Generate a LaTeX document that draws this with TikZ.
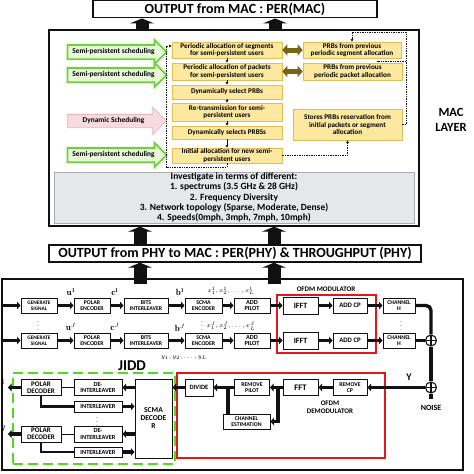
\documentclass[tikz,border=0pt]{standalone}
\usepackage{fontspec}
\setsansfont{Carlito}
\usepackage{amsmath}
\usepackage{amssymb}
\usetikzlibrary{arrows.meta,positioning,calc,shapes.arrows}
\definecolor{Ink}{HTML}{111111}
\definecolor{YelFill}{HTML}{FDE8A0}
\definecolor{YelEdge}{HTML}{E2BC55}
\definecolor{GrnFill}{HTML}{E6F8D8}
\definecolor{GrnEdge}{HTML}{6FD13A}
\definecolor{PnkFill}{HTML}{F8DAE2}
\definecolor{PnkEdge}{HTML}{E6B5C3}
\definecolor{Olive}{HTML}{7A6413}
\definecolor{GreyFill}{HTML}{E5E7E9}
\definecolor{GreyEdge}{HTML}{A9ADB1}
\definecolor{RedBox}{HTML}{E3161D}
\definecolor{JiddGreen}{HTML}{52DA23}
\tikzset{
  blk/.style={draw=Ink,line width=1pt,fill=white,align=center,inner sep=0pt,font=\sffamily\bfseries\fontsize{5.8}{6.2}\selectfont},
  ybox/.style={draw=YelEdge,fill=YelFill,line width=0.6pt,align=center,inner sep=0pt,font=\sffamily\bfseries\fontsize{7.2}{7.8}\selectfont},
  outbox/.style={draw=Ink,line width=1.4pt,fill=white,inner sep=0pt,font=\sffamily\bfseries\fontsize{14}{16}\selectfont},
  sched/.style={single arrow,single arrow head indent=0pt,minimum height=99pt,inner xsep=2pt,inner ysep=3pt,text height=5pt,text depth=1.5pt,font=\sffamily\bfseries\fontsize{7.4}{8}\selectfont},
  flow/.style={Ink,line width=3.4pt,-{Triangle[width=7.5pt,length=3.5pt]}},
  pipe/.style={Ink,line width=3.4pt},
  bigup/.style={Ink,line width=13pt,-{Triangle[width=24pt,length=5pt]}},
  dots/.style={Ink,line width=0.9pt,dash pattern=on 1.4pt off 1pt},
  small/.style={Ink,line width=0.6pt,-{Latex[length=2.5pt,width=3pt]}},
  swap/.style={Olive,line width=5pt,{Triangle[width=11pt,length=5pt]}-{Triangle[width=11pt,length=5pt]}},
  oplus/.style={circle,draw=Ink,fill=white,line width=1.1pt,minimum size=11pt,inner sep=0pt,
    path picture={\draw[Ink,line width=1.1pt] (path picture bounding box.north) -- (path picture bounding box.south) (path picture bounding box.west) -- (path picture bounding box.east);}},
  mlbl/.style={inner sep=0pt,font=\fontsize{9}{9}\selectfont},
  xlbl/.style={inner sep=0pt,font=\fontsize{6.5}{6.5}\selectfont},
  vdot/.style={inner sep=0pt,font=\fontsize{8}{8}\selectfont}
}
\begin{document}
\begin{tikzpicture}[x=1pt,y=-1pt]
\useasboundingbox (0,0) rectangle (474,474);
% MAC part
\node[outbox,minimum width=284pt,minimum height=17.5pt] (macout) at (235,9) {OUTPUT from MAC : PER(MAC)};
\node[draw=Ink,line width=1.3pt,minimum width=370pt,minimum height=196pt,inner sep=0pt] (macbox) at (234,128) {};
\coordinate (ca) at (142,0);
\coordinate (cb) at (275,0);
\draw[bigup] (macbox.north -| ca) -- (macout.south -| ca);
\draw[bigup] (macbox.north -| cb) -- (macout.south -| cb);
\node[font=\sffamily\bfseries\fontsize{12.5}{14.5}\selectfont,align=center] (maclayer) at (451,120) {MAC\\LAYER};

\node[sched,draw=GrnEdge,fill=GrnFill,line width=1.8pt,single arrow head extend=5pt] (sp1) at (113.5,52) {Semi-persistent scheduling};
\node[sched,draw=GrnEdge,fill=GrnFill,line width=1.8pt,single arrow head extend=5pt] (sp2) at (113.5,75) {Semi-persistent scheduling};
\node[sched,draw=PnkEdge,fill=PnkFill,line width=0.8pt,single arrow head extend=7pt] (dyn) at (113.5,121) {Dynamic Scheduling};
\node[sched,draw=GrnEdge,fill=GrnFill,line width=1.8pt,single arrow head extend=5pt] (sp3) at (113.5,155) {Semi-persistent scheduling};

\node[ybox,minimum width=110pt,minimum height=16pt] (seg) at (227,50) {Periodic allocation of segments\\for semi-persistent users};
\node[ybox,minimum width=110pt,minimum height=17pt] (pkt) at (227,71.5) {Periodic allocation of packets\\for semi-persistent users};
\node[ybox,minimum width=110pt,minimum height=14pt] (dsel) at (227,92) {Dynamically select PRBs};
\node[ybox,minimum width=110pt,minimum height=18pt] (retx) at (227,112) {Re-transmission for semi-\\persistent users};
\node[ybox,minimum width=110pt,minimum height=13pt] (dsels) at (227,132.5) {Dynamically selects PRBSs};
\node[ybox,minimum width=110pt,minimum height=15pt] (init) at (227,155.5) {Initial allocation for new semi-\\persistent users};
\node[ybox,minimum width=98pt,minimum height=16pt] (prbseg) at (352,50) {PRBs from previous\\periodic segment allocation};
\node[ybox,minimum width=99pt,minimum height=17pt] (prbpkt) at (352.5,71.5) {PRBs from previous\\periodic packet allocation};
\node[ybox,minimum width=109pt,minimum height=31pt] (store) at (347.5,124.5) {Stores PRBs reservation from\\initial packets or segment\\allocation};

\draw[small] (seg) -- (pkt);
\draw[small] (pkt) -- (dsel);
\draw[small] (dsel) -- (retx);
\draw[small] (retx) -- (dsels);
\draw[small] (dsels) -- (init);
\draw[swap] (seg) -- (prbseg);
\draw[swap] (pkt) -- (prbpkt);

\coordinate (ltop) at (166,46);
\coordinate (rtop) at (406,32);
\coordinate (rmid) at (406,61);
\draw[dots,->,>={Latex[length=2.5pt,width=3pt]}] (init.south) -- ++(0,4) -| (ltop) -- (ltop -| seg.west);
\draw[dots,->,>={Latex[length=2.5pt,width=3pt]}] (store.east) -- ++(4,0) |- (rtop) -| (prbseg.north);
\draw[dots] (rmid) -- ++(-29,0) -- ++(0,2);
\draw[dots,->,>={Latex[length=2.5pt,width=3pt]}] (init.east) -| (store.south);

\node[draw=GreyEdge,fill=GreyFill,line width=0.8pt,minimum width=360pt,minimum height=51pt,align=center,inner sep=0pt,font=\sffamily\bfseries\fontsize{9.5}{10.2}\selectfont] (invest) at (234,197.5) {Investigate in terms of different:\\1. spectrums (3.5 GHz \& 28 GHz)\\2. Frequency Diversity\\3. Network topology (Sparse, Moderate, Dense)\\4. Speeds(0mph, 3mph, 7mph, 10mph)};

% PHY part
\node[outbox,minimum width=372pt,minimum height=17pt] (phyout) at (235,253.5) {OUTPUT from PHY to MAC : PER(PHY) \& THROUGHPUT (PHY)};
\coordinate (cc) at (140,0);
\coordinate (cd) at (274,0);
\draw[bigup] (phyout.north -| cc) -- (macbox.south -| cc);
\draw[bigup] (phyout.north -| cd) -- (macbox.south -| cd);
\node[draw=Ink,line width=1.2pt,minimum width=461pt,minimum height=191pt,inner sep=0pt] (phybox) at (232.5,374.5) {};
\draw[bigup] ($(phybox.north -| cc)+(0,6)$) -- (phyout.south -| cc);
\draw[bigup] ($(phybox.north -| cd)+(0,6)$) -- (phyout.south -| cd);

\node[draw=RedBox,line width=2pt,minimum width=99pt,minimum height=58pt,inner sep=0pt] (ofdmmod) at (326.5,324) {};
\node[font=\sffamily\bfseries\fontsize{7}{8}\selectfont] (modlbl) at (326,289.5) {OFDM MODULATOR};
\node[draw=RedBox,line width=2pt,minimum width=208pt,minimum height=85pt,inner sep=0pt] (ofdmdem) at (281,415.5) {};
\node[draw=JiddGreen,line width=2.2pt,dash pattern=on 10pt off 5pt,minimum width=162pt,minimum height=91pt,inner sep=0pt] (jidd) at (94,418.5) {};
\node[font=\sffamily\bfseries\fontsize{15}{15}\selectfont] (jiddlbl) at (132,366) {JIDD};

% transmitter
\node[blk,minimum width=36pt,minimum height=15pt,font=\sffamily\bfseries\fontsize{5.3}{6}\selectfont] (gen1) at (39,305.5) {GENERATE\\SIGNAL};
\node[blk,minimum width=36pt,minimum height=15pt] (pol1) at (92,305.5) {POLAR\\ENCODER};
\node[blk,minimum width=44pt,minimum height=15pt] (bit1) at (146,305.5) {BITS\\INTERLEAVER};
\node[blk,minimum width=37pt,minimum height=15pt] (enc1) at (203.5,305.5) {SCMA\\ENCODER};
\node[blk,minimum width=36pt,minimum height=15pt,font=\sffamily\bfseries\fontsize{6.3}{6.6}\selectfont] (pil1) at (252,305.5) {ADD\\PILOT};
\node[blk,minimum width=35pt,minimum height=17pt,font=\sffamily\bfseries\fontsize{8}{8}\selectfont] (ifft1) at (300.5,305.5) {IFFT};
\node[blk,minimum width=34pt,minimum height=15pt,font=\sffamily\bfseries\fontsize{6.8}{7}\selectfont] (acp1) at (350,305.5) {ADD CP};
\node[blk,minimum width=32pt,minimum height=15pt] (chn1) at (399,305.5) {CHANNEL\\H};
\node[blk,minimum width=36pt,minimum height=15pt,font=\sffamily\bfseries\fontsize{5.3}{6}\selectfont] (gen2) at (39,340.5) {GENERATE\\SIGNAL};
\node[blk,minimum width=36pt,minimum height=15pt] (pol2) at (92,340.5) {POLAR\\ENCODER};
\node[blk,minimum width=44pt,minimum height=15pt] (bit2) at (146,340.5) {BITS\\INTERLEAVER};
\node[blk,minimum width=37pt,minimum height=15pt] (enc2) at (203.5,340.5) {SCMA\\ENCODER};
\node[blk,minimum width=36pt,minimum height=15pt,font=\sffamily\bfseries\fontsize{6.3}{6.6}\selectfont] (pil2) at (252,340.5) {ADD\\PILOT};
\node[blk,minimum width=35pt,minimum height=17pt,font=\sffamily\bfseries\fontsize{8}{8}\selectfont] (ifft2) at (300.5,340.5) {IFFT};
\node[blk,minimum width=34pt,minimum height=15pt,font=\sffamily\bfseries\fontsize{6.8}{7}\selectfont] (acp2) at (350,340.5) {ADD CP};
\node[blk,minimum width=32pt,minimum height=15pt] (chn2) at (399,340.5) {CHANNEL\\H};

\coordinate (in1) at (2,305.5);
\coordinate (in2) at (2,340.5);
\draw[flow] (in1) -- (gen1);
\draw[flow] (gen1) -- (pol1);
\draw[flow] (pol1) -- (bit1);
\draw[flow] (bit1) -- (enc1);
\draw[flow] (enc1) -- (pil1);
\draw[flow] (pil1) -- (ifft1);
\draw[flow] (ifft1) -- (acp1);
\draw[flow] (acp1) -- (chn1);
\draw[flow] (in2) -- (gen2);
\draw[flow] (gen2) -- (pol2);
\draw[flow] (pol2) -- (bit2);
\draw[flow] (bit2) -- (enc2);
\draw[flow] (enc2) -- (pil2);
\draw[flow] (pil2) -- (ifft2);
\draw[flow] (ifft2) -- (acp2);
\draw[flow] (acp2) -- (chn2);

\node[mlbl] (lu1) at (71,292) {$\mathbf{u}^{\mathbf{1}}$};
\node[mlbl] (lc1) at (115,292) {$\mathbf{c}^{\mathbf{1}}$};
\node[mlbl] (lb1) at (180,292) {$\mathbf{b}^{\mathbf{1}}$};
\node[xlbl] (lx1) at (231,291) {$x_1^1, x_2^1, \ldots, x_L^1$};
\node[mlbl] (lu2) at (71,327) {$\mathbf{u}^{J}$};
\node[mlbl] (lc2) at (115,327) {$\mathbf{c}^{J}$};
\node[mlbl] (lb2) at (180,328) {$\mathbf{b}^{J}$};
\node[xlbl] (lx2) at (231,326) {$x_1^J, x_2^J, \ldots, x_L^J$};
\node[xlbl] (ly) at (184,358) {$y_1, y_2, \ldots, y_L$};
\node[vdot] (vd1) at (38,323) {$\vdots$};
\node[vdot] (vd2) at (202,323) {$\vdots$};
\node[vdot] (vd3) at (401,323) {$\vdots$};

% channel and noise
\node[oplus] (plus1) at (431,340.5) {};
\node[oplus] (plus2) at (431,387.5) {};
\coordinate (noise) at (431,399);
\draw[pipe,rounded corners=5pt] (chn1.east) -| (plus1.north);
\draw[pipe] (chn2.east) -- (plus1.west);
\draw[pipe] (plus1.south) -- (plus2.north);
\draw[pipe] (noise) -- (plus2.south);
\node[font=\sffamily\bfseries\fontsize{8}{8}\selectfont] (noiselbl) at (431,408) {NOISE};
\node[font=\sffamily\bfseries\fontsize{10}{10}\selectfont] (ylbl) at (409,377) {Y};

% receiver
\node[blk,minimum width=34pt,minimum height=16pt] (rcp) at (350,387.5) {REMOVE\\CP};
\node[blk,minimum width=35pt,minimum height=16pt,font=\sffamily\bfseries\fontsize{8.5}{9}\selectfont] (fft) at (300.5,387.5) {FFT};
\node[blk,minimum width=35pt,minimum height=16pt] (rpl) at (252,387.5) {REMOVE\\PILOT};
\node[blk,minimum width=28pt,minimum height=17pt,font=\sffamily\bfseries\fontsize{6.5}{7}\selectfont] (dvd) at (199,387.5) {DIVIDE};
\node[blk,minimum width=47pt,minimum height=15pt] (ces) at (246.5,421.5) {CHANNEL\\ESTIMATION};
\node[font=\sffamily\bfseries\fontsize{7}{8}\selectfont,align=center] (demlbl) at (330,407) {OFDM\\DEMODULATOR};
\draw[flow] (plus2.west) -- (rcp.east);
\draw[flow] (rcp) -- (fft);
\draw[flow] (fft) -- (rpl);
\draw[flow] (rpl) -- (dvd);
\coordinate (fj) at (278,387.5);
\coordinate (cj) at (228,387.5);
\draw[flow] (fj) |- (ces.east);
\draw[pipe] (ces.north -| cj) -- (cj);

\node[blk,minimum width=37pt,minimum height=79pt,font=\sffamily\bfseries\fontsize{7.5}{8}\selectfont] (scma) at (153.5,418.5) {SCMA\\DECODE\\R};
\draw[flow] (dvd.west) -- (dvd.west -| scma.east);
\node[blk,minimum width=40pt,minimum height=16pt,font=\sffamily\bfseries\fontsize{7}{7.4}\selectfont] (pd1) at (41,387.5) {POLAR\\DECODER};
\node[blk,minimum width=48pt,minimum height=16pt,font=\sffamily\bfseries\fontsize{6.3}{6.8}\selectfont] (di1) at (98,387.5) {DE-\\INTERLEAVER};
\node[blk,minimum width=48pt,minimum height=11pt,font=\sffamily\bfseries\fontsize{6.3}{6.8}\selectfont] (il1) at (98,406.5) {INTERLEAVER};
\node[blk,minimum width=40pt,minimum height=16pt,font=\sffamily\bfseries\fontsize{7}{7.4}\selectfont] (pd2) at (41,434) {POLAR\\DECODER};
\node[blk,minimum width=48pt,minimum height=16pt,font=\sffamily\bfseries\fontsize{6.3}{6.8}\selectfont] (di2) at (98,434) {DE-\\INTERLEAVER};
\node[blk,minimum width=48pt,minimum height=10pt,font=\sffamily\bfseries\fontsize{6.3}{6.8}\selectfont] (il2) at (98,452) {INTERLEAVER};
\node[vdot] (vd4) at (97,419) {$\vdots$};
\coordinate (out1) at (8,387.5);
\coordinate (out2) at (8,434);
\node[inner sep=0pt,font=\fontsize{8}{8}\selectfont] (o1lbl) at (3,382) {$1$};
\node[inner sep=0pt,font=\fontsize{8}{8}\selectfont] (o2lbl) at (3,429) {$J$};
\draw[flow] (scma.west |- di1) -- (di1.east);
\draw[flow] (scma.west |- di2) -- (di2.east);
\draw[Ink,line width=1pt] (di1) -- (pd1);
\draw[Ink,line width=1pt] (di2) -- (pd2);
\draw[flow] (pd1.west) -- (out1);
\draw[flow] (pd2.west) -- (out2);
\draw[Ink,line width=2.6pt] (pd1.south) |- (il1.west);
\draw[Ink,line width=2.6pt] (pd2.south) |- (il2.west);
\draw[flow] (il1.east) -- (il1.east -| scma.west);
\draw[flow] (il2.east) -- (il2.east -| scma.west);
\end{tikzpicture}
\end{document}
